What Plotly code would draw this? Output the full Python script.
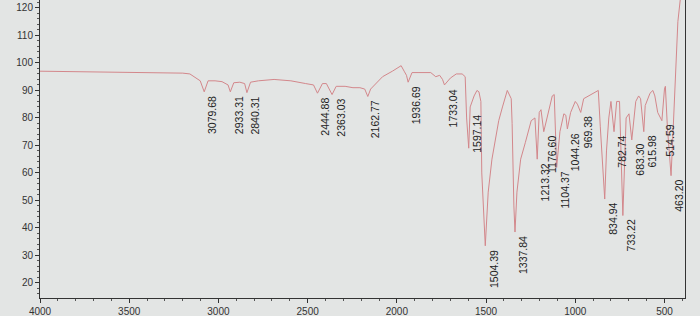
import plotly.graph_objects as go

# IR spectrum, wavenumber (cm-1) vs %T
wavenumber = [4000, 3700, 3400, 3200, 3160, 3118, 3102, 3079.68, 3058, 3019, 2980, 2946, 2933.31,
              2914, 2880, 2853, 2840.31, 2820, 2776, 2688, 2594, 2511, 2467, 2444.88, 2417, 2395,
              2363.03, 2340, 2290, 2246, 2207, 2180, 2162.77, 2147, 2125, 2080, 2025, 1998, 1976,
              1959, 1946, 1936.69, 1915, 1876, 1810, 1782, 1760, 1744, 1733.04, 1700, 1667, 1634,
              1617, 1609, 1597.14, 1589, 1578, 1567, 1551, 1540, 1529, 1524, 1504.39, 1488, 1467,
              1440, 1429, 1408, 1381, 1359, 1354, 1344, 1337.84, 1327, 1306, 1280, 1263, 1247, 1226,
              1213.32, 1202, 1192, 1176.60, 1129, 1118, 1104.37, 1086, 1064, 1053, 1044.26, 1026,
              1000, 988, 969.38, 953, 927, 887, 871, 860, 834.94, 825, 812, 800, 782.74, 768, 752,
              733.22, 715, 699, 683.30, 661, 645, 634, 615.98, 608, 581, 565, 554, 538, 514.59, 500,
              495, 484, 463.20, 452, 440, 425, 400, 385]
transmittance = [97, 96.8, 96.5, 96.3, 96, 94, 93.5, 89.5, 93.5, 93.5, 93.2, 92, 89.5,
                 92.8, 93, 92.5, 89.2, 93, 93.5, 94, 93.5, 92.5, 92, 89, 92.5, 92.5,
                 88.5, 91.5, 91.5, 91, 91, 90.5, 87.8, 90.5, 92, 95, 97, 98, 99,
                 97, 95.5, 93, 96.5, 96.5, 96.5, 95, 95.5, 94, 92, 94.5, 96, 96,
                 95, 80, 69, 84, 86, 88, 90, 89.5, 86, 60, 33.5, 53, 65,
                 75, 79, 84, 90, 87, 78, 48, 38.5, 53, 65, 71, 75, 79, 80,
                 65, 82, 83, 75, 88, 88.5, 62, 75, 81.5, 81, 76, 82,
                 86, 85, 82, 87, 88, 89.5, 90, 77, 50.5, 68, 80, 86, 75, 86, 86,
                 44.5, 80, 81.5, 72, 86, 88, 87, 75, 84.5, 89, 90, 88, 82, 79, 90.5,
                 91.5, 77, 59, 75, 95, 115, 130, 135]

peak_labels = ["3079.68", "2933.31", "2840.31", "2444.88", "2363.03", "2162.77", "1936.69",
               "1733.04", "1597.14", "1504.39", "1337.84", "1213.32", "1176.60", "1104.37",
               "1044.26", "969.38", "834.94", "782.74", "733.22", "683.30", "615.98", "514.59",
               "463.20"]
peak_wn = [3079.68, 2933.31, 2840.31, 2444.88, 2363.03, 2162.77, 1936.69, 1733.04, 1597.14,
           1504.39, 1337.84, 1213.32, 1176.60, 1104.37, 1044.26, 969.38, 834.94, 782.74,
           733.22, 683.30, 615.98, 514.59, 463.20]
label_t = [89.5, 89.5, 89.2, 89, 88.5, 87.8, 93, 92, 82.5, 33.5, 38.5, 65, 75, 62, 76, 82, 50.5,
           75, 44.5, 72, 75, 79, 59]

x_ticks = [4000, 3500, 3000, 2500, 2000, 1500, 1000, 500]
y_ticks = [20, 30, 40, 50, 60, 70, 80, 90, 100, 110, 120]

fig = go.Figure()
fig.add_trace(go.Scatter(x=wavenumber, y=transmittance, mode="lines",
                         line=dict(color="#d3878b", width=1), hoverinfo="skip"))

for lab, wx, wy in zip(peak_labels, peak_wn, label_t):
    fig.add_annotation(x=wx, y=wy, text=lab, showarrow=False, textangle=-90,
                       xanchor="left", yanchor="top", xshift=0, yshift=-2,
                       font=dict(family="Liberation Sans, Arial", size=10.5, color="#222"))

bg = "#e3e5e4"
fig.update_layout(
    width=700, height=316,
    margin=dict(l=40, r=15, t=0, b=18),
    paper_bgcolor=bg, plot_bgcolor=bg,
    showlegend=False,
    xaxis=dict(range=[4000, 385], tickvals=x_ticks, ticktext=[str(v) for v in x_ticks],
               showgrid=False, zeroline=False, showline=True, linecolor="#333", linewidth=1,
               ticks="outside", ticklen=4, tickcolor="#333",
               minor=dict(dtick=100, ticks="outside", ticklen=2, tickcolor="#555"),
               tickfont=dict(family="Liberation Sans, Arial", size=10, color="#333")),
    yaxis=dict(range=[14.5, 122.9], tickvals=y_ticks, ticktext=[str(v) for v in y_ticks],
               showgrid=False, zeroline=False, showline=True, linecolor="#333", linewidth=1,
               mirror=True,
               ticks="outside", ticklen=4, tickcolor="#333",
               minor=dict(dtick=2, ticks="outside", ticklen=2, tickcolor="#555"),
               tickfont=dict(family="Liberation Sans, Arial", size=10, color="#333")),
)

fig.write_html("out.html")
